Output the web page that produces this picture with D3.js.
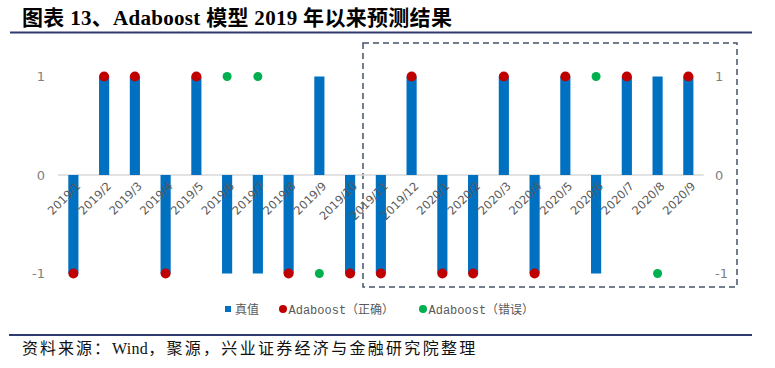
<!DOCTYPE html>
<html><head><meta charset="utf-8">
<script src="https://cdn.jsdelivr.net/npm/d3@7/dist/d3.min.js"></script>
<style>
html,body{margin:0;padding:0;background:#fff;}
svg{display:block;}
</style></head>
<body>
<svg id="chart" width="775" height="368"></svg>
<script>
const categories = ["2019/1","2019/2","2019/3","2019/4","2019/5","2019/6","2019/7","2019/8","2019/9","2019/10","2019/11","2019/12","2020/1","2020/2","2020/3","2020/4","2020/5","2020/6","2020/7","2020/8","2020/9"];
const actual =    [-1, 1, 1,-1, 1,-1,-1,-1, 1,-1,-1, 1,-1,-1, 1,-1, 1,-1, 1, 1, 1];
const correct =   [-1, 1, 1,-1, 1,null,null,-1,null,-1,-1, 1,-1,-1, 1,-1, 1,null, 1,null, 1];
const wrong =     [null,null,null,null,null, 1, 1,null,-1,null,null,null,null,null,null,null,null, 1,null,-1,null];
const yTicks = [-1, 0, 1];
const yTickLabels = ["-1", "0", "1"];
const titleText = "图表 13、Adaboost 模型 2019 年以来预测结果";
const sourceParts = ["资料来源：", "Wind", "，聚源，兴业证券经济与金融研究院整理"];
const legendLabels = ["真值", "Adaboost（正确）", "Adaboost（错误）"];

const svg = d3.select("#chart");
const C = {bar:"#0070C0", red:"#C00000", green:"#00B050", gray:"#595959", axis:"#7F7F7F", navy:"#2E3A70"};

// title
svg.append("text").attr("x",22).attr("y",25)
  .attr("font-family","'Liberation Serif','Noto Sans CJK SC',serif").attr("font-weight","bold")
  .attr("font-size",21).attr("letter-spacing",0.3).attr("fill","#000").text(titleText);
svg.append("line").attr("x1",10).attr("x2",752).attr("y1",32.5).attr("y2",32.5)
  .attr("stroke",C.navy).attr("stroke-width",2);

const x = d3.scaleBand().domain(categories).range([58, 703.7]).paddingInner(0.67).paddingOuter(0.335);
const y = d3.scaleLinear().domain([-1,1]).range([273.5, 76.5]);

// highlight dashed rect
svg.append("rect").attr("x",363).attr("y",43).attr("width",374).attr("height",244)
  .attr("fill","none").attr("stroke","#44546A").attr("stroke-width",1.5).attr("stroke-dasharray","6,4");

// zero line
svg.append("line").attr("x1",58).attr("x2",703.7).attr("y1",y(0)).attr("y2",y(0))
  .attr("stroke","#D9D9D9").attr("stroke-width",1.5);

// bars
svg.append("g").selectAll("rect").data(actual).join("rect")
  .attr("x",(d,i)=>x(categories[i]))
  .attr("width",x.bandwidth())
  .attr("y",d=>Math.min(y(d),y(0)))
  .attr("height",d=>Math.abs(y(d)-y(0)))
  .attr("fill",C.bar);

// category labels
svg.append("g").selectAll("text").data(categories).join("text")
  .attr("transform",d=>`translate(${x(d)+x.bandwidth()/2+5},${y(0)+9}) rotate(-45)`)
  .attr("text-anchor","end").attr("dy","0.35em")
  .attr("font-family","'DejaVu Sans',sans-serif").attr("font-size",11.5)
  .attr("fill",C.gray).text(d=>d);

// dots
function dots(arr, color, r){
  svg.append("g").selectAll("circle").data(arr.map((v,i)=>({v,c:categories[i]})).filter(d=>d.v!==null))
    .join("circle").attr("cx",d=>x(d.c)+x.bandwidth()/2).attr("cy",d=>y(d.v)).attr("r",r).attr("fill",color);
}
dots(correct, C.red, 5);
dots(wrong, C.green, 4.5);

// axes
const fmt = d => yTickLabels[yTicks.indexOf(d)];
const la = svg.append("g").attr("transform","translate(45,0)")
  .call(d3.axisLeft(y).tickValues(yTicks).tickSize(0).tickPadding(0).tickFormat(fmt));
const ra = svg.append("g").attr("transform","translate(715,0)")
  .call(d3.axisRight(y).tickValues(yTicks).tickSize(0).tickPadding(0).tickFormat(fmt));
[la,ra].forEach(a=>{
  a.select(".domain").remove();
  a.selectAll("text").attr("font-family","'DejaVu Sans',sans-serif").attr("font-size",13).attr("fill",C.axis);
});

// legend
const lg = svg.append("g").attr("font-family","'Liberation Mono','Noto Sans CJK SC',monospace").attr("font-size",12).attr("fill",C.gray);
lg.append("rect").attr("x",225).attr("y",306).attr("width",6).attr("height",6).attr("fill",C.bar);
lg.append("text").attr("x",235).attr("y",313.5).text(legendLabels[0]);
lg.append("circle").attr("cx",283).attr("cy",309).attr("r",4).attr("fill",C.red);
lg.append("text").attr("x",288.5).attr("y",313.5).text(legendLabels[1]);
lg.append("circle").attr("cx",423).attr("cy",309).attr("r",4).attr("fill",C.green);
lg.append("text").attr("x",428.5).attr("y",313.5).text(legendLabels[2]);

// source
svg.append("line").attr("x1",9).attr("x2",752).attr("y1",335).attr("y2",335)
  .attr("stroke",C.navy).attr("stroke-width",2);
const src = svg.append("text").attr("x",22).attr("y",354)
  .attr("font-family","'Liberation Serif','Noto Sans CJK SC',serif").attr("font-size",16).attr("fill","#111");
src.append("tspan").attr("letter-spacing",2).text(sourceParts[0]);
src.append("tspan").attr("letter-spacing",0.3).text(sourceParts[1]);
src.append("tspan").attr("letter-spacing",2.3).text(sourceParts[2]);
</script>
</body></html>
